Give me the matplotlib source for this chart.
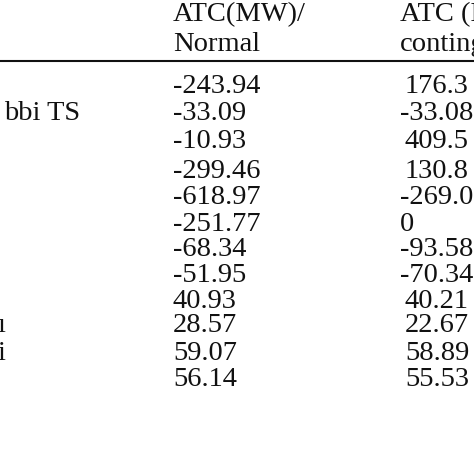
import matplotlib
matplotlib.use("Agg")
import matplotlib.pyplot as plt

labels = ["", "bbi TS", "", "", "", "", "", "", "", "ı", "i", ""]
normal = ["-243.94", "-33.09", "-10.93", "-299.46", "-618.97", "-251.77",
          "-68.34", "-51.95", "40.93", "28.57", "59.07", "56.14"]
contingency = ["176.3", "-33.08", "409.5", "130.8", "-269.0", "0",
               "-93.58", "-70.34", "40.21", "22.67", "58.89", "55.53"]
header1 = ["ATC(MW)/", "Normal"]
header2 = ["ATC (MW)/", "contingency"]
row_y = [86, 113, 142, 172, 198, 224, 250, 275, 301, 326, 353, 379]

W = H = 474
fig = plt.figure(figsize=(4.74, 4.74), dpi=100)
ax = fig.add_axes([0, 0, 1, 1])
ax.set_xlim(0, W)
ax.set_ylim(H, 0)
ax.axis("off")
fs = 20.5
kw = dict(fontsize=fs, family="Liberation Serif", va="center", color="#111111")

ax.text(173, 15, header1[0], **kw)
ax.text(173, 44, header1[1], **kw)
ax.text(400, 15, header2[0], **kw)
ax.text(400, 44, header2[1], **kw)
ax.plot([0, W], [61, 61], color="#111111", lw=1.5)

for y, lab, a, b in zip(row_y, labels, normal, contingency):
    if lab:
        ax.text(4 if len(lab) > 1 else -3, y, lab, **kw)
    ax.text(173, y, a, **kw)
    ax.text(400 if b.startswith("-") or b == "0" else 405, y, b, **kw)

fig.savefig("out.png", dpi=100)
